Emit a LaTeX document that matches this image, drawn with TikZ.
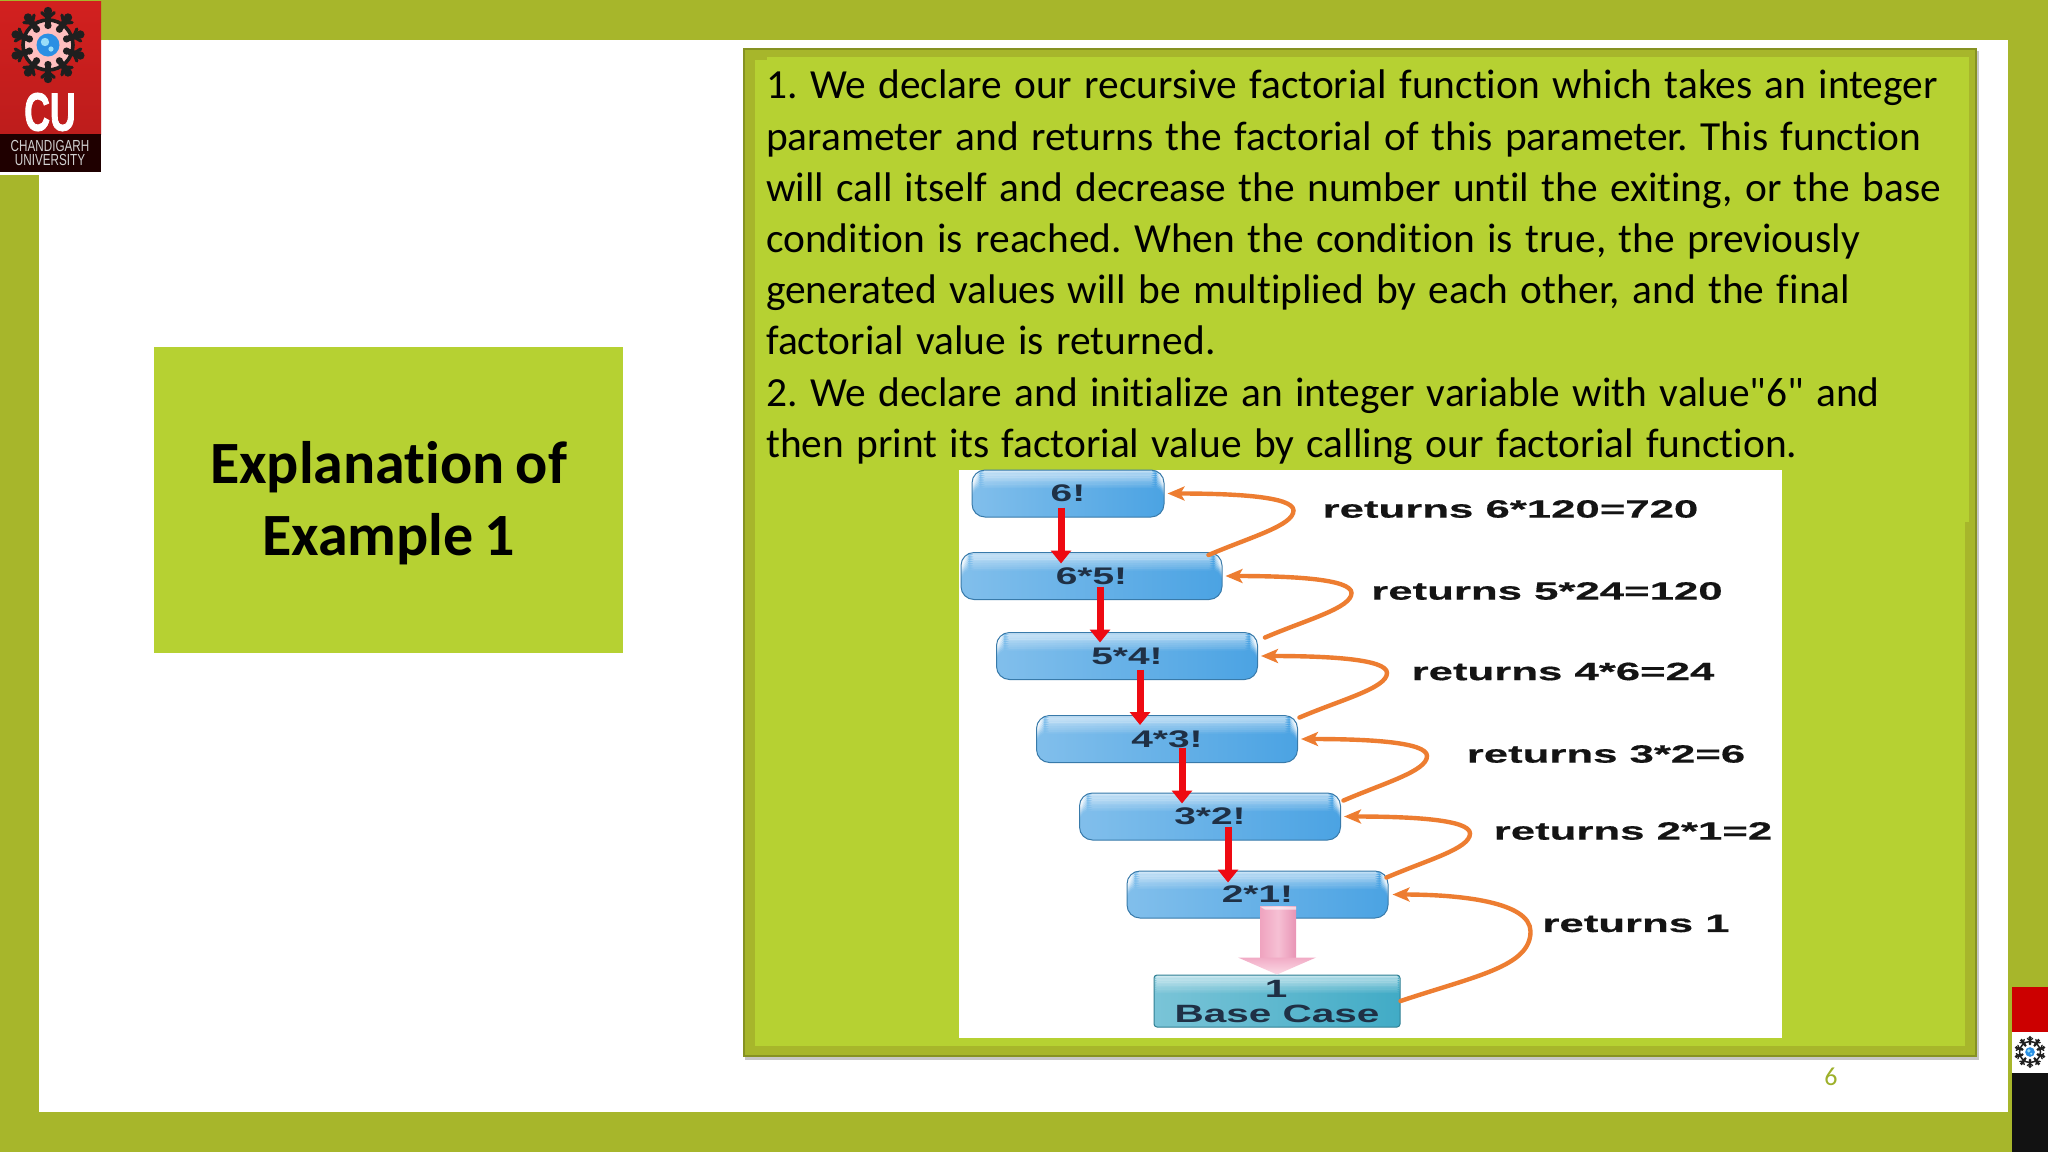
\documentclass[tikz,border=0pt]{standalone}
\usepackage{fontspec}
\setmainfont[Ligatures={NoCommon,NoContextual,TeXOff},WordSpace=0.8]{Carlito}
\newfontfamily\dg[FakeStretch=1.62]{Liberation Sans}
\newfontfamily\dgl[FakeStretch=1.75,FakeBold=0.5]{Liberation Sans}
\newfontfamily\logof[FakeStretch=0.73]{Liberation Sans}
\newfontfamily\cufont[FakeStretch=0.66,FakeBold=1.5]{Liberation Sans}
\usetikzlibrary{calc,arrows.meta}
\definecolor{olive}{HTML}{A7B62B}
\definecolor{lime}{HTML}{B6D132}
\definecolor{navy}{HTML}{1F3045}
\definecolor{flow}{HTML}{ED7D31}
\definecolor{redar}{HTML}{EE0A12}
\definecolor{cured}{HTML}{D2201F}
\definecolor{boxblue}{HTML}{4BA3E3}
\definecolor{basecol}{HTML}{41ABC6}
\definecolor{globe}{HTML}{2B8FE3}
\definecolor{pagenum}{HTML}{9DB02A}
\definecolor{pinkl}{HTML}{EFA3BF}
\definecolor{pinkm}{HTML}{F6C0D4}
\definecolor{pinkr}{HTML}{E894B5}
\definecolor{pinkt}{HTML}{F1ABC5}
\definecolor{pinkb}{HTML}{FBDAE6}
\tikzset{
  stepbox/.style={rounded corners=13pt,draw=#1!75!black,line width=1pt,inner sep=0,
    text=navy,font=\dg\bfseries\fontsize{24}{24}\selectfont,
    minimum width=261pt,minimum height=47pt,left color=#1!70!white,right color=#1,
    path picture={
      \foreach \i in {0,...,9}{
        \fill[white,opacity=.62-.062*\i]
          ([yshift=-1.8*\i pt]path picture bounding box.north west) rectangle
          ([yshift=-1.8*\i pt-1.9pt]path picture bounding box.north east);}}},
  stepbox/.default=boxblue,
  down/.style={draw=redar,line width=7pt,-{Triangle[width=20pt,length=13pt]}},
  back/.style={draw=flow,line width=4.4pt,line cap=round,-{Stealth[length=17pt,width=14pt,inset=4pt]}},
  retlab/.style={font=\dgl\bfseries\fontsize{25}{25}\selectfont,text=black!92,inner sep=0,anchor=center},
  para/.style={font=\fontsize{41.4}{51.2}\selectfont,text=black,align=left,anchor=north west,inner sep=0,text width=1250pt},
  baselab/.style={inner sep=0,text=navy,font=\dg\bfseries\fontsize{25}{25}\selectfont},
}
\newcommand{\retcurve}[4]{% from, dx dy, to
  \draw[back] ($(#1.north east)+(#2,#3)$)
    .. controls +(42,-18) and ($(#4.east)+(129,32)$) .. ($(#4.east)+(129,17)$)
    .. controls ($(#4.east)+(129,3)$) and ($(#4.east)+(70,0)$) .. ($(#4.east)+(3,0)$);}
\newcommand{\emblem}[4]{% cx cy scale inner-colour
  \begin{scope}[shift={(#1,#2)}]
    \fill[#4] (0,0) circle (24*#3);
    \draw[black!88,line width=3.6*#3 pt] (0,0) circle (25*#3);
    \foreach \a in {18,54,...,342}{
      \draw[black!88,line width=6*#3 pt,line cap=round] (\a:22*#3) -- (\a:30*#3);
      \fill[black!88] (\a:34*#3) circle (4.2*#3);
      \draw[black!88,line width=3.2*#3 pt,line cap=round] (\a-11:33*#3) -- (\a:27*#3) -- (\a+11:33*#3);
      \fill[black!88] (\a:19.5*#3) circle (3.6*#3);
    }
    \fill[globe] (0,0) circle (11.5*#3);
    \fill[white!60!cyan] (-3*#3,-3*#3) circle (4.2*#3);
    \fill[white!60!cyan] (3*#3,4*#3) circle (2.6*#3);
  \end{scope}}
\begin{document}
\begin{tikzpicture}[x=1pt,y=-1pt]
\frenchspacing
\useasboundingbox (0,0) rectangle (2048,1152);
\fill[olive] (0,0) rectangle (2048,1152);
\fill[white] (39,40) rectangle (2008,1112);
% right strip
\fill[red!80!black] (2012,987) rectangle (2048,1032);
\fill[white] (2012,1032) rectangle (2048,1073);
\fill[black!93] (2012,1073) rectangle (2048,1152);
\emblem{2030}{1052}{0.42}{white}
% logo
\fill[white] (0,172) rectangle (39,175);
\shade[top color=cured,bottom color=cured!90!black] (0,1) rectangle (101,134);
\fill[black!88!red] (0,134) rectangle (101,172);
\emblem{48}{45}{1}{red!25!white}
\node[name=cu,text=white,inner sep=0,font=\cufont\bfseries\fontsize{54}{54}\selectfont] at (50,112) {CU};
\node[name=chu,text=white!82!black,inner sep=0,align=center,font=\logof\fontsize{16}{14.5}\selectfont] at (50,153) {CHANDIGARH\\UNIVERSITY};
% left box
\fill[lime] (154,347) rectangle (623,653);
\node[name=title,font=\bfseries\fontsize{60}{72}\selectfont,align=center,text=black,inner sep=0] at (388.5,503) {Explanation of\\Example 1};
% panel
\fill[black!40,opacity=.55] (745,51) rectangle (1979,1060);
\fill[olive!80!black] (743,48) rectangle (1977,1057);
\fill[olive] (745,50) rectangle (1975,1055);
\fill[lime] (755,60) rectangle (1965,1046);
\fill[lime] (767,57) rectangle (1969,522);
\node[para,name=txt] at (766,70) {\spaceskip=12.4pt\relax
1. We declare our recursive factorial function which takes an integer\\
parameter and returns the factorial of this parameter. This function\\
will call itself and decrease the number until the exiting, or the base\\
condition is reached. When the condition is true, the previously\\
generated values will be multiplied by each other, and the final\\
factorial value is returned.\\
2. We declare and initialize an integer variable with value"6" and\\
then print its factorial value by calling our factorial function.};
% picture
\fill[white] (959,470) rectangle (1782,1038);
\node[stepbox,minimum width=192pt,name=b6] at (1068,493.5) {6!};
\node[stepbox,name=b65] at (1091.5,576) {6*5!};
\node[stepbox,name=b54] at (1127,656) {5*4!};
\node[stepbox,name=b43] at (1167,739) {4*3!};
\node[stepbox,name=b32] at (1210,816.5) {3*2!};
\node[stepbox,name=b21] at (1257.5,894.5) {2*1!};
\node[stepbox=basecol,rounded corners=3pt,minimum width=246pt,minimum height=52pt,name=base] at (1277,1001) {};
\node[baselab,name=base1] at (1276,989) {1};
\node[baselab,name=base2] at (1277,1014) {Base Case};
% pink arrow
\shade[left color=pinkl,right color=pinkr,middle color=pinkm]
  ($(base.north)+(-17,-68)$) -- ($(base.north)+(19,-68)$) -- ($(base.north)+(19,-17)$)
  -- ($(base.north)+(-17,-17)$) -- cycle;
\fill[white,opacity=.6] ($(base.north)+(-17,-68)$) -- ($(base.north)+(19,-68)$) -- ($(base.north)+(19,-65)$) -- ($(base.north)+(-12,-65)$) -- cycle;
\shade[top color=pinkt,bottom color=pinkb]
  ($(base.north)+(39,-17)$) -- (base.north) -- ($(base.north)+(-39,-17)$) -- cycle;
% red arrows
\draw[down] ($(b6.south)+(-7,-10)$) -- ($(b65.north)+(-30.5,11.5)$);
\draw[down] ($(b65.south)+(8.5,-13.5)$) -- ($(b54.north)+(-27,10.5)$);
\draw[down] ($(b54.south)+(13,-10.5)$) -- ($(b43.north)+(-27,10)$);
\draw[down] ($(b43.south)+(15,-15.5)$) -- ($(b32.north)+(-28,11)$);
\draw[down] ($(b32.south)+(18,-14)$) -- ($(b21.north)+(-29.5,12)$);
% return curves
\retcurve{b65}{-14}{3}{b6}
\retcurve{b54}{7}{5.5}{b65}
\retcurve{b43}{1.5}{2.5}{b54}
\retcurve{b32}{2.5}{8}{b43}
\retcurve{b21}{-2}{7}{b32}
\draw[back] (base.east)
  .. controls +(75,-25) and ($(b21.east)+(142,72)$) .. ($(b21.east)+(142,37)$)
  .. controls ($(b21.east)+(142,7)$) and ($(b21.east)+(70,0)$) .. ($(b21.east)+(4,0)$);
% labels
\node[retlab,name=r1] at (1510.5,509) {returns 6*120=720};
\node[retlab,name=r2] at (1547,591) {returns 5*24=120};
\node[retlab,name=r3] at (1563,671.5) {returns 4*6=24};
\node[retlab,name=r4] at (1606,754) {returns 3*2=6};
\node[retlab,name=r5] at (1633,831) {returns 2*1=2};
\node[retlab,name=r6] at (1636,923.5) {returns 1};
\node[name=pg,text=pagenum,inner sep=0,font=\fontsize{26}{26}\selectfont] at (1831,1077) {6};
\end{tikzpicture}
\end{document}
